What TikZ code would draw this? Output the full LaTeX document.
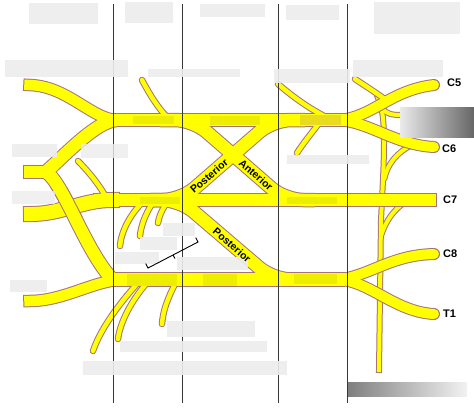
\documentclass[tikz,border=0pt]{standalone}
\usepackage{fontspec}
\setmainfont{Liberation Sans}
\definecolor{olc}{RGB}{165,115,120}
\definecolor{ylw}{RGB}{255,255,0}
\definecolor{vln}{RGB}{55,55,55}

\newcommand\ltpaths{%
  \draw[lt, line cap=rect] (378,98) .. controls (387,115) and (384,160) .. (381,220) -- (379,370);
  \draw[lt] (382,108) .. controls (386,114) and (392,115) .. (402,115);
  \draw[lt] (412,145) .. controls (398,152) and (388,162) .. (384,180);
  \draw[lt] (404,203) .. controls (394,210) and (386,220) .. (381,236);
}

\newcommand\mainpaths{%
  % trunks and cords
  \draw[big] (112,120) -- (345,120);
  \draw[big, line cap=rect] (100,200) -- (430,200);
  \draw[big] (108,279.5) -- (345,279.5);
  % roots
  \draw[root, line cap=round] (338,120) .. controls (372,118) and (390,90) .. (434,85);
  \draw[root, line cap=round] (338,120) .. controls (370,122) and (395,145) .. (434,147);
  \draw[root, line cap=round] (338,279.5) .. controls (370,276) and (390,255) .. (434,254);
  \draw[root, line cap=round] (338,279.5) .. controls (370,281) and (395,312) .. (434,314);
  % divisions
  \draw[big, rounded corners=18pt] (160,120) -- (193,120) -- (285,200) -- (315,200);
  \draw[big, rounded corners=18pt] (305,120) -- (273,120) -- (181,200) -- (150,200);
  \draw[big, rounded corners=18pt] (150,200) -- (180,200) -- (273,279.5) -- (305,279.5);
  % terminal branches
  \draw[mid, line cap=rect] (118,120) .. controls (92,120) and (68,86) .. (29.5,85);
  \draw[big] (116,120) .. controls (96,122) and (68,152) .. (47,171);
  \draw[big, line cap=rect] (46,172) -- (30,172);
  \draw[big] (46,172) .. controls (63,182) and (85,250) .. (112,279);
  \draw[wide, line cap=rect] (112,200) .. controls (82,200) and (62,214) .. (31,214);
  \draw[mid, line cap=rect] (125,279.5) .. controls (95,279.5) and (65,301) .. (29.5,301);
  % thin branches
  \draw[thin] (142,80) .. controls (150,95) and (158,108) .. (168,118);
  \draw[thin] (278,84) .. controls (292,96) and (308,108) .. (328,118);
  \draw[thin] (320,122) .. controls (310,135) and (302,145) .. (297,153);
  \draw[thin] (355,79) .. controls (364,85) and (375,92) .. (386,100);
  \draw[thin] (78,161) .. controls (88,171) and (98,183) .. (106,197);
  \draw[thin] (141,204) .. controls (130,215) and (121,232) .. (120,246);
  \draw[thin] (152,204) .. controls (146,213) and (141,225) .. (140,236);
  \draw[thin] (166,204) .. controls (162,210) and (159,216) .. (158,223);
  \draw[thin] (137,284) .. controls (118,305) and (100,330) .. (93,351);
  \draw[thin] (146,284) .. controls (132,300) and (120,322) .. (118,339);
  \draw[thin] (175,284) .. controls (168,298) and (163,310) .. (162,324);
}

\begin{document}
\begin{tikzpicture}[x=1pt,y=-1pt,
  blank/.style={fill=black!7, opacity=.9},
  onbar/.style={fill=black, opacity=.07},
  lbl/.style={font=\bfseries\fontsize{11}{12}\selectfont, inner sep=0pt, anchor=west},
  dlbl/.style={font=\bfseries\fontsize{10.5}{12}\selectfont, inner sep=0pt}]
\useasboundingbox (0,0) rectangle (474,408);
\fill[white] (0,0) rectangle (474,408);

% long thoracic system (behind)
\begin{scope}[lt/.style={draw=olc,line width=6pt}] \ltpaths \end{scope}
\begin{scope}[lt/.style={draw=ylw,line width=4pt}] \ltpaths \end{scope}

% main plexus: outline pass then fill pass
\begin{scope}[big/.style={draw=olc,line width=14.5pt}, mid/.style={draw=olc,line width=12.5pt},
  wide/.style={draw=olc,line width=16pt}, root/.style={draw=olc,line width=12pt},
  thin/.style={draw=olc,line width=6.5pt,line cap=round}]
  \mainpaths
\end{scope}
\begin{scope}[big/.style={draw=ylw,line width=12.5pt}, mid/.style={draw=ylw,line width=10.5pt},
  wide/.style={draw=ylw,line width=14pt}, root/.style={draw=ylw,line width=10pt},
  thin/.style={draw=ylw,line width=4.5pt,line cap=round}]
  \mainpaths
\end{scope}

% medial root passing over the posterior cord branch
\begin{scope}
  \clip (40,187) rectangle (96,216);
  \draw[olc, line width=14.5pt] (46,172) .. controls (63,182) and (85,250) .. (112,279);
  \draw[ylw, line width=12.5pt] (46,172) .. controls (63,182) and (85,250) .. (112,279);
\end{scope}

% vertical lines
\foreach \x in {113,182,278,347} \draw[vln, line width=0.8pt] (\x,4) -- (\x,403);

% blanked labels
\fill[blank] (29,3) rectangle (98,24);
\fill[blank] (125,2) rectangle (173,23);
\fill[blank] (200,4) rectangle (265,17);
\fill[blank] (286,5) rectangle (339,20);
\fill[blank] (374,2) rectangle (460,34);
\fill[blank] (5,60) rectangle (128,77);
\fill[blank] (148,69) rectangle (240,77);
\fill[blank] (274,69) rectangle (350,83);
\fill[blank] (353,60) rectangle (443,77);
\shade[left color=black!8, right color=black!60] (400,107) rectangle (474,137);
\fill[blank] (287,155) rectangle (369,164);
\fill[blank] (12,144) rectangle (57,157);
\fill[blank, opacity=.8] (81,144) rectangle (128,158);
\fill[blank, opacity=.8] (12,191) rectangle (55,204);
\fill[blank] (163,223) rectangle (195,236);
\fill[blank] (140,237) rectangle (177,250);
\fill[blank] (115,252) rectangle (159,264);
\fill[blank] (177,257) rectangle (248,270);
\fill[blank] (10,280) rectangle (47,292);
\fill[blank] (167,321) rectangle (255,337);
\fill[blank] (120,341) rectangle (267,352);
\fill[blank] (83,361) rectangle (287,375);
\shade[left color=black!50, right color=black!5] (348,382) rectangle (467,396);
% blanked labels lying on the nerves
\fill[onbar] (133,116) rectangle (174,124);
\fill[onbar] (210,116) rectangle (260,125);
\fill[fill=olc!70!yellow, opacity=.35] (300,115) rectangle (341,125);
\fill[onbar] (140,197) rectangle (180,204);
\fill[onbar] (287,197) rectangle (337,204);
\fill[onbar] (127,274) rectangle (177,286);
\fill[onbar] (203,274) rectangle (237,286);
\fill[onbar] (294,274) rectangle (337,284);

% bracket
\draw[black, line width=0.9pt] (145.7,263.6) -- (148,268) -- (198,242) -- (195.7,237.6);
\draw[black, line width=0.9pt] (173,255) -- (175,258.5);

% labels
\node[lbl] (c5) at (447,83) {C5};
\node[lbl] (c6) at (442,149) {C6};
\node[lbl] (c7) at (443,200) {C7};
\node[lbl] (c8) at (443,254) {C8};
\node[lbl] (t1) at (443,314) {T1};
\node[dlbl, rotate=41] (post1) at (209,176) {Posterior};
\node[dlbl, rotate=-41] (ant) at (256,175) {Anterior};
\node[dlbl, rotate=-41] (post2) at (232,245) {Posterior};
\end{tikzpicture}
\end{document}
